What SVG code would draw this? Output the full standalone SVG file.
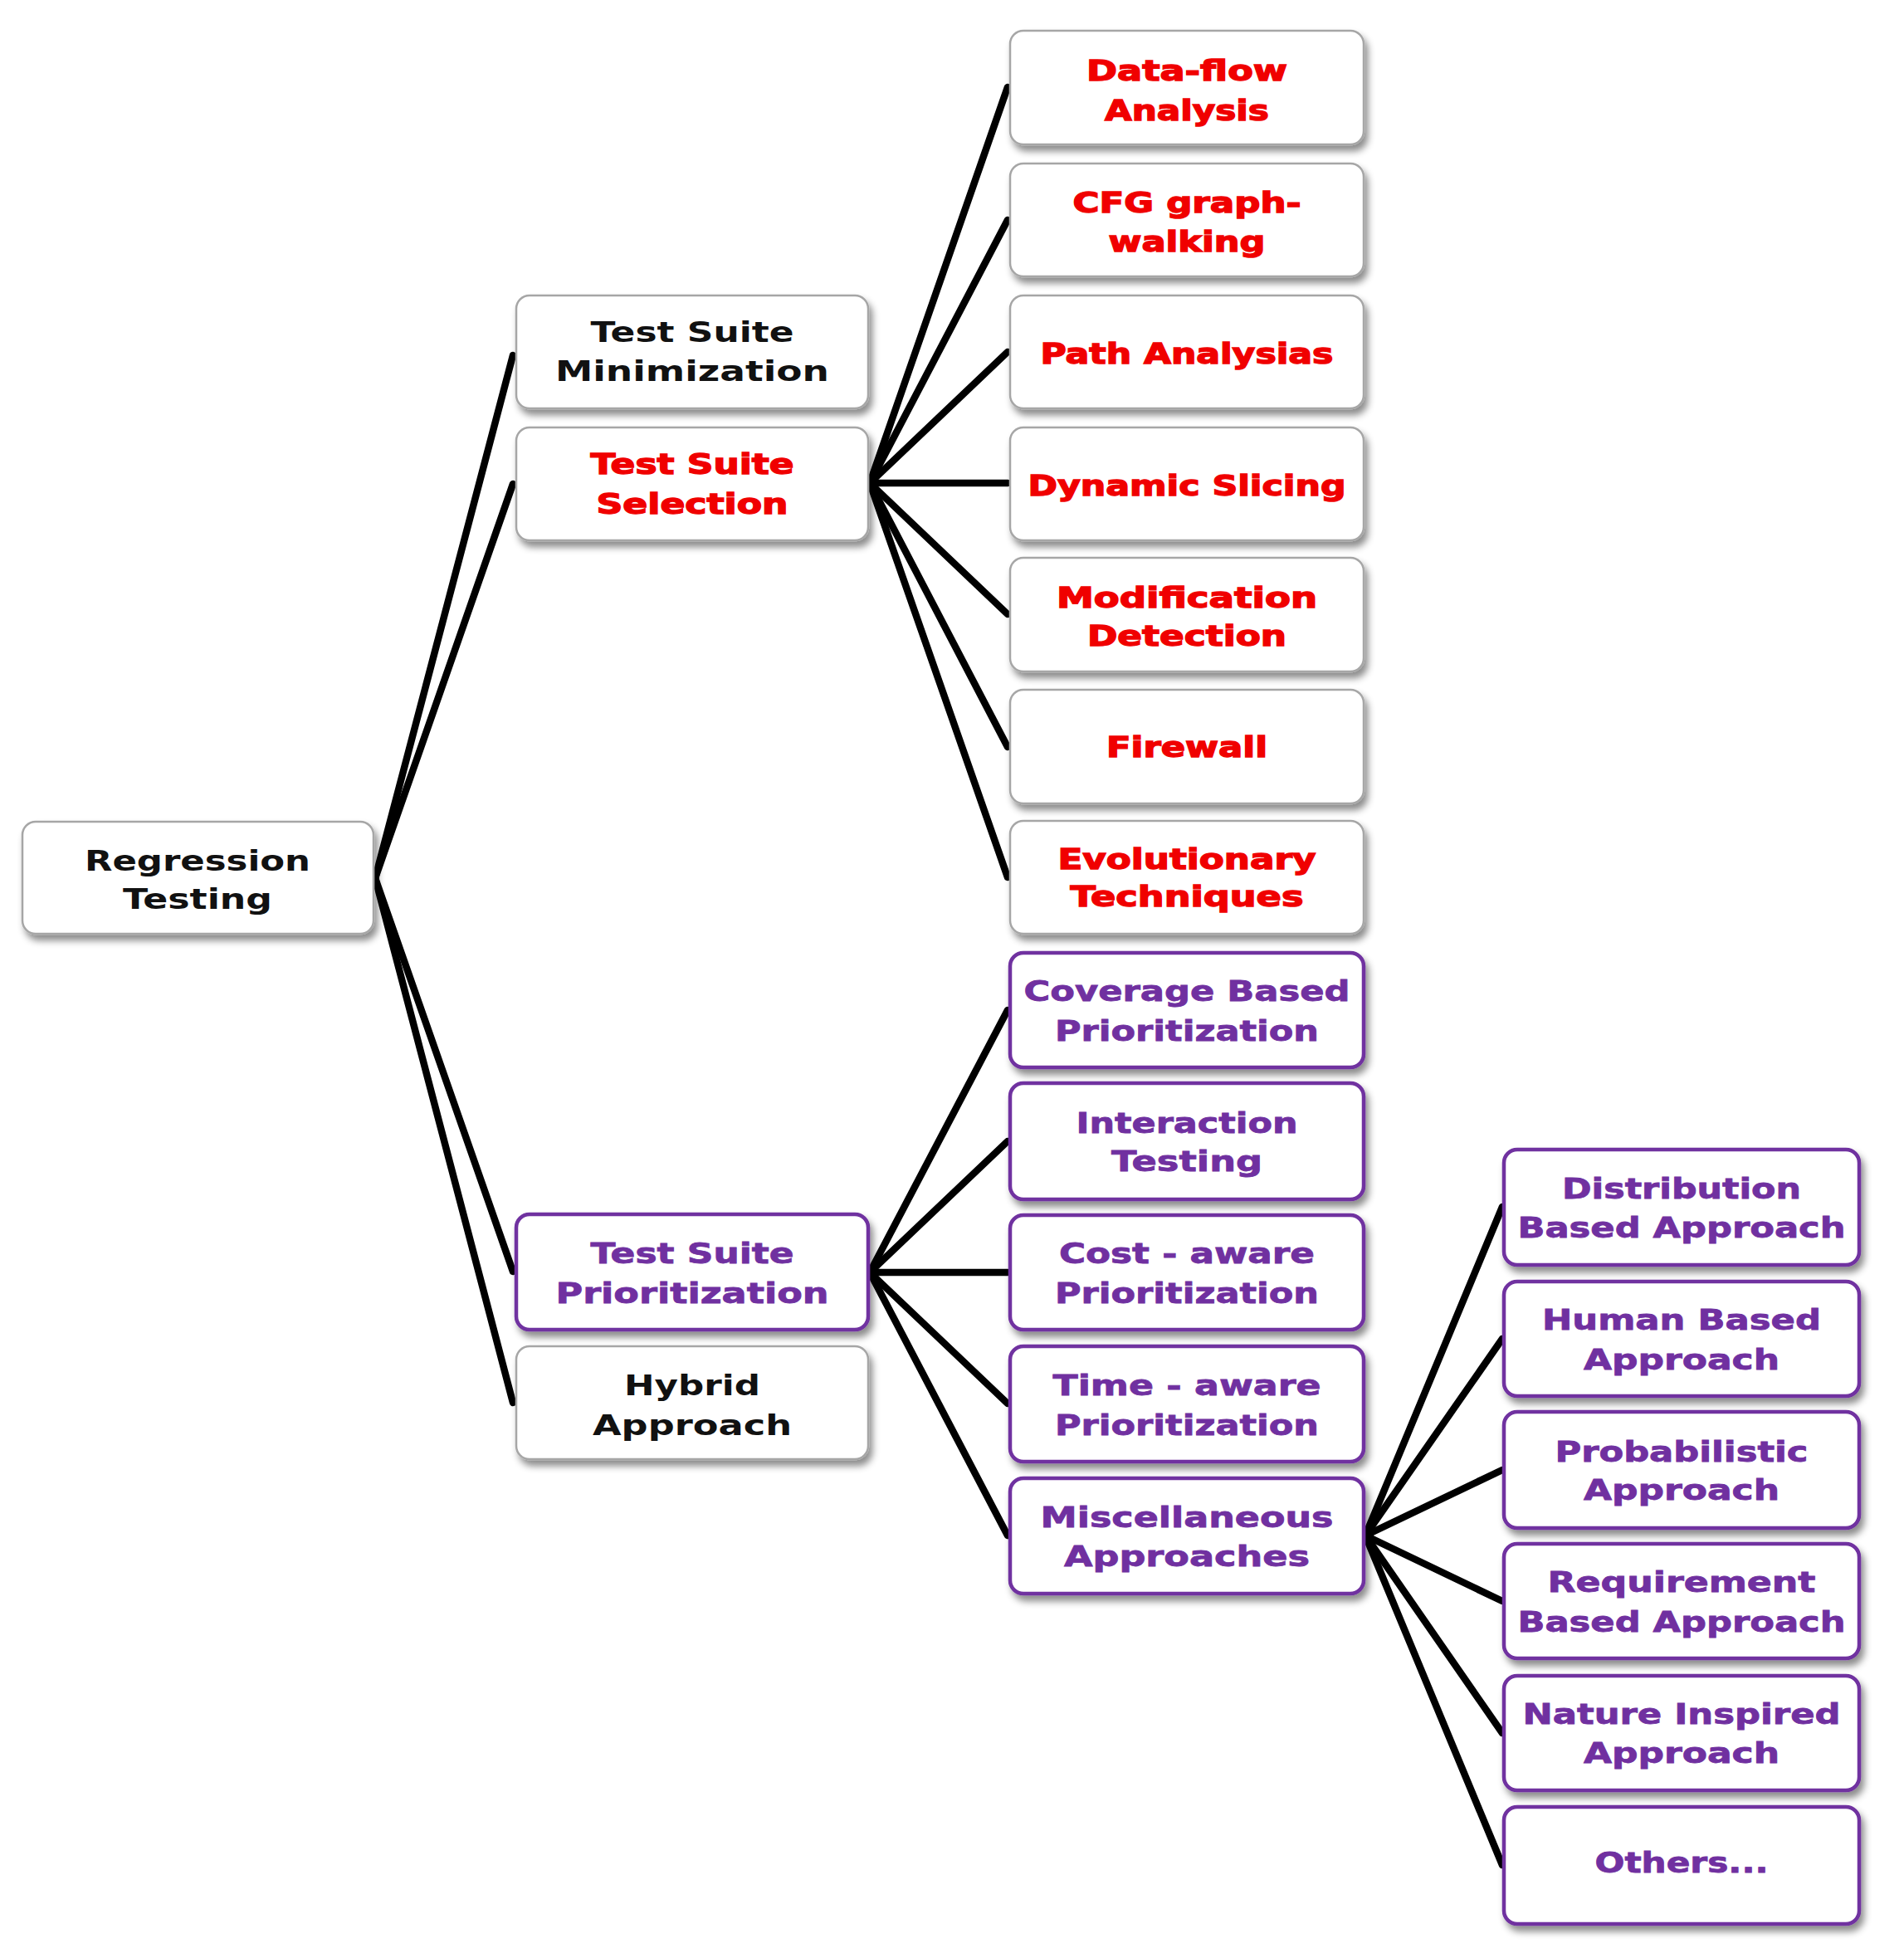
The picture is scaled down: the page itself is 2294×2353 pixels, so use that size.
<svg xmlns="http://www.w3.org/2000/svg" width="2294" height="2353" viewBox="0 0 2294 2353">
<style>
.box{fill:#fff;stroke:#a6a6a6;stroke-width:2.5}
.pbox{fill:#fff;stroke:#7030a0;stroke-width:4.5}
text{font-family:"DejaVu Sans","Liberation Sans",sans-serif;font-weight:bold;font-size:34px;text-anchor:middle}
.k{fill:#111}
.r{fill:#f00000;stroke:#f00000;stroke-width:1.4}
.p{fill:#7030a0;stroke:#7030a0;stroke-width:0.8}
.c{stroke:#000;stroke-width:8.5;fill:none;stroke-linecap:round}
</style>
<defs>
<filter id="sh" x="-10%" y="-10%" width="125%" height="135%">
<feDropShadow dx="4" dy="7" stdDeviation="4" flood-color="#000" flood-opacity="0.45"/>
</filter>
</defs>
<rect width="2294" height="2353" fill="#fff"/>
<g id="connectors">
<line class="c" x1="452" y1="1058" x2="618" y2="428"/>
<line class="c" x1="452" y1="1058" x2="618" y2="583"/>
<line class="c" x1="452" y1="1058" x2="618" y2="1532"/>
<line class="c" x1="452" y1="1058" x2="618" y2="1690"/>
<line class="c" x1="1048" y1="582" x2="1214" y2="105"/>
<line class="c" x1="1048" y1="582" x2="1214" y2="265"/>
<line class="c" x1="1048" y1="582" x2="1214" y2="424"/>
<line class="c" x1="1048" y1="582" x2="1214" y2="582"/>
<line class="c" x1="1048" y1="582" x2="1214" y2="740"/>
<line class="c" x1="1048" y1="582" x2="1214" y2="900"/>
<line class="c" x1="1048" y1="582" x2="1214" y2="1057"/>
<line class="c" x1="1048" y1="1533" x2="1214" y2="1217"/>
<line class="c" x1="1048" y1="1533" x2="1214" y2="1375"/>
<line class="c" x1="1048" y1="1533" x2="1214" y2="1533"/>
<line class="c" x1="1048" y1="1533" x2="1214" y2="1691"/>
<line class="c" x1="1048" y1="1533" x2="1214" y2="1850"/>
<line class="c" x1="1645" y1="1850" x2="1810" y2="1454"/>
<line class="c" x1="1645" y1="1850" x2="1810" y2="1613"/>
<line class="c" x1="1645" y1="1850" x2="1810" y2="1771"/>
<line class="c" x1="1645" y1="1850" x2="1810" y2="1929"/>
<line class="c" x1="1645" y1="1850" x2="1810" y2="2088"/>
<line class="c" x1="1645" y1="1850" x2="1810" y2="2247"/>
</g>
<g id="regression-testing"><rect class="box" filter="url(#sh)" x="27" y="990" width="423" height="135" rx="16"/>
<text class="k" x="238" y="1049" textLength="272" lengthAdjust="spacingAndGlyphs">Regression</text>
<text class="k" x="238" y="1095" textLength="180" lengthAdjust="spacingAndGlyphs">Testing</text></g>
<g id="ts-minimization"><rect class="box" filter="url(#sh)" x="622" y="356" width="424" height="136" rx="16"/>
<text class="k" x="834" y="412" textLength="245" lengthAdjust="spacingAndGlyphs">Test Suite</text>
<text class="k" x="834" y="459" textLength="330" lengthAdjust="spacingAndGlyphs">Minimization</text></g>
<g id="ts-selection"><rect class="box" filter="url(#sh)" x="622" y="515" width="424" height="136" rx="16"/>
<text class="r" x="834" y="571" textLength="245" lengthAdjust="spacingAndGlyphs">Test Suite</text>
<text class="r" x="834" y="619" textLength="231" lengthAdjust="spacingAndGlyphs">Selection</text></g>
<g id="ts-prioritization"><rect class="pbox" filter="url(#sh)" x="622" y="1463" width="424" height="139" rx="16"/>
<text class="p" x="834" y="1522" textLength="245" lengthAdjust="spacingAndGlyphs">Test Suite</text>
<text class="p" x="834" y="1570" textLength="329" lengthAdjust="spacingAndGlyphs">Prioritization</text></g>
<g id="hybrid"><rect class="box" filter="url(#sh)" x="622" y="1622" width="424" height="136" rx="16"/>
<text class="k" x="834" y="1681" textLength="164" lengthAdjust="spacingAndGlyphs">Hybrid</text>
<text class="k" x="834" y="1729" textLength="240" lengthAdjust="spacingAndGlyphs">Approach</text></g>
<g id="data-flow"><rect class="box" filter="url(#sh)" x="1217" y="37" width="426" height="137" rx="16"/>
<text class="r" x="1430" y="97" textLength="242" lengthAdjust="spacingAndGlyphs">Data-flow</text>
<text class="r" x="1430" y="145" textLength="198" lengthAdjust="spacingAndGlyphs">Analysis</text></g>
<g id="cfg"><rect class="box" filter="url(#sh)" x="1217" y="197" width="426" height="136" rx="16"/>
<text class="r" x="1430" y="256" textLength="275" lengthAdjust="spacingAndGlyphs">CFG graph-</text>
<text class="r" x="1430" y="303" textLength="189" lengthAdjust="spacingAndGlyphs">walking</text></g>
<g id="path"><rect class="box" filter="url(#sh)" x="1217" y="356" width="426" height="136" rx="16"/>
<text class="r" x="1430" y="438" textLength="353" lengthAdjust="spacingAndGlyphs">Path Analysias</text></g>
<g id="dynamic"><rect class="box" filter="url(#sh)" x="1217" y="515" width="426" height="136" rx="16"/>
<text class="r" x="1430" y="597" textLength="383" lengthAdjust="spacingAndGlyphs">Dynamic Slicing</text></g>
<g id="modification"><rect class="box" filter="url(#sh)" x="1217" y="672" width="426" height="137" rx="16"/>
<text class="r" x="1430" y="732" textLength="314" lengthAdjust="spacingAndGlyphs">Modification</text>
<text class="r" x="1430" y="778" textLength="240" lengthAdjust="spacingAndGlyphs">Detection</text></g>
<g id="firewall"><rect class="box" filter="url(#sh)" x="1217" y="831" width="426" height="137" rx="16"/>
<text class="r" x="1430" y="912" textLength="194" lengthAdjust="spacingAndGlyphs">Firewall</text></g>
<g id="evolutionary"><rect class="box" filter="url(#sh)" x="1217" y="989" width="426" height="136" rx="16"/>
<text class="r" x="1430" y="1047" textLength="311" lengthAdjust="spacingAndGlyphs">Evolutionary</text>
<text class="r" x="1430" y="1092" textLength="281" lengthAdjust="spacingAndGlyphs">Techniques</text></g>
<g id="coverage"><rect class="pbox" filter="url(#sh)" x="1217" y="1148" width="426" height="138" rx="16"/>
<text class="p" x="1430" y="1206" textLength="393" lengthAdjust="spacingAndGlyphs">Coverage Based</text>
<text class="p" x="1430" y="1254" textLength="318" lengthAdjust="spacingAndGlyphs">Prioritization</text></g>
<g id="interaction"><rect class="pbox" filter="url(#sh)" x="1217" y="1305" width="426" height="140" rx="16"/>
<text class="p" x="1430" y="1365" textLength="267" lengthAdjust="spacingAndGlyphs">Interaction</text>
<text class="p" x="1430" y="1411" textLength="182" lengthAdjust="spacingAndGlyphs">Testing</text></g>
<g id="cost-aware"><rect class="pbox" filter="url(#sh)" x="1217" y="1464" width="426" height="138" rx="16"/>
<text class="p" x="1430" y="1522" textLength="308" lengthAdjust="spacingAndGlyphs">Cost - aware</text>
<text class="p" x="1430" y="1570" textLength="318" lengthAdjust="spacingAndGlyphs">Prioritization</text></g>
<g id="time-aware"><rect class="pbox" filter="url(#sh)" x="1217" y="1622" width="426" height="139" rx="16"/>
<text class="p" x="1430" y="1681" textLength="323" lengthAdjust="spacingAndGlyphs">Time - aware</text>
<text class="p" x="1430" y="1729" textLength="318" lengthAdjust="spacingAndGlyphs">Prioritization</text></g>
<g id="miscellaneous"><rect class="pbox" filter="url(#sh)" x="1217" y="1781" width="426" height="139" rx="16"/>
<text class="p" x="1430" y="1840" textLength="353" lengthAdjust="spacingAndGlyphs">Miscellaneous</text>
<text class="p" x="1430" y="1887" textLength="296" lengthAdjust="spacingAndGlyphs">Approaches</text></g>
<g id="distribution"><rect class="pbox" filter="url(#sh)" x="1812" y="1385" width="428" height="139" rx="16"/>
<text class="p" x="2026" y="1444" textLength="288" lengthAdjust="spacingAndGlyphs">Distribution</text>
<text class="p" x="2026" y="1491" textLength="395" lengthAdjust="spacingAndGlyphs">Based Approach</text></g>
<g id="human"><rect class="pbox" filter="url(#sh)" x="1812" y="1544" width="428" height="138" rx="16"/>
<text class="p" x="2026" y="1602" textLength="336" lengthAdjust="spacingAndGlyphs">Human Based</text>
<text class="p" x="2026" y="1650" textLength="236" lengthAdjust="spacingAndGlyphs">Approach</text></g>
<g id="probabilistic"><rect class="pbox" filter="url(#sh)" x="1812" y="1701" width="428" height="140" rx="16"/>
<text class="p" x="2026" y="1761" textLength="305" lengthAdjust="spacingAndGlyphs">Probabilistic</text>
<text class="p" x="2026" y="1807" textLength="236" lengthAdjust="spacingAndGlyphs">Approach</text></g>
<g id="requirement"><rect class="pbox" filter="url(#sh)" x="1812" y="1860" width="428" height="138" rx="16"/>
<text class="p" x="2026" y="1918" textLength="323" lengthAdjust="spacingAndGlyphs">Requirement</text>
<text class="p" x="2026" y="1966" textLength="395" lengthAdjust="spacingAndGlyphs">Based Approach</text></g>
<g id="nature"><rect class="pbox" filter="url(#sh)" x="1812" y="2019" width="428" height="138" rx="16"/>
<text class="p" x="2026" y="2077" textLength="383" lengthAdjust="spacingAndGlyphs">Nature Inspired</text>
<text class="p" x="2026" y="2124" textLength="236" lengthAdjust="spacingAndGlyphs">Approach</text></g>
<g id="others"><rect class="pbox" filter="url(#sh)" x="1812" y="2177" width="428" height="141" rx="16"/>
<text class="p" x="2026" y="2256" textLength="209" lengthAdjust="spacingAndGlyphs">Others...</text></g>
</svg>
